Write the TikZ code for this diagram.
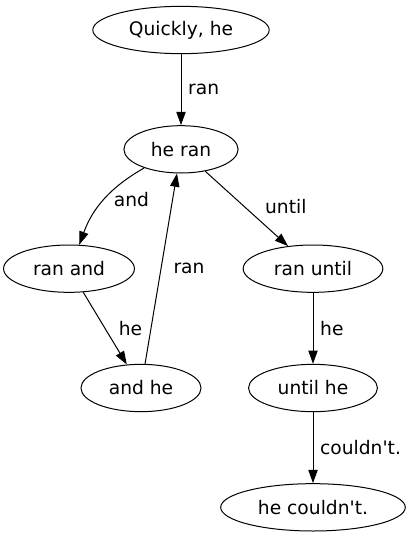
\documentclass[tikz,border=0pt]{standalone}
\usepackage{fontspec}
\setmainfont{DejaVu Sans}
\usetikzlibrary{positioning}
\usetikzlibrary{shapes.geometric, arrows.meta}

\begin{document}
\begin{tikzpicture}[x=0.75pt, y=-0.75pt, node distance=53.25pt,
  font=\fontsize{14}{16}\selectfont, line width=0.75pt,
  word/.style={draw, ellipse, inner xsep=7.7pt, inner ysep=0pt, minimum width=54pt, minimum height=35.5pt},
  lbl/.style={inner sep=0pt},
  >={Triangle[length=10pt, width=7pt]}]
  \useasboundingbox (0,0) rectangle (408,539);
  \node [word] (quickly) at (181,30) {Quickly, he};
  \node [word, below=of quickly] (heran) {he ran};
  \node [word, below=of heran, xshift=-84pt] (ranand) {ran and};
  \node [word, below=of heran, xshift=99pt] (ranuntil) {ran until};
  \node [word, below=of ranand, xshift=54pt] (andhe) {and he};
  \node [word, below=of ranuntil] (untilhe) {until he};
  \node [word, below=of untilhe] (couldnt) {he couldn\textquotesingle t.};

  \draw [->] (quickly) -- node[lbl, right=5pt] {ran} (heran);
  \draw [->] (heran) to[bend right=20] node[lbl, right=7pt] {and} (ranand);
  \draw [->] (heran) -- node[lbl, right=13.5pt, yshift=1.5pt] {until} (ranuntil);
  \draw [->] (ranand) -- node[lbl, right=10pt] {he} (andhe);
  \draw [->] (andhe) -- node[lbl, right=9pt] {ran} (heran);
  \draw [->] (ranuntil) -- node[lbl, right=5pt] {he} (untilhe);
  \draw [->] (untilhe) -- node[lbl, right=5pt] {couldn\textquotesingle t.} (couldnt);
\end{tikzpicture}
\end{document}
